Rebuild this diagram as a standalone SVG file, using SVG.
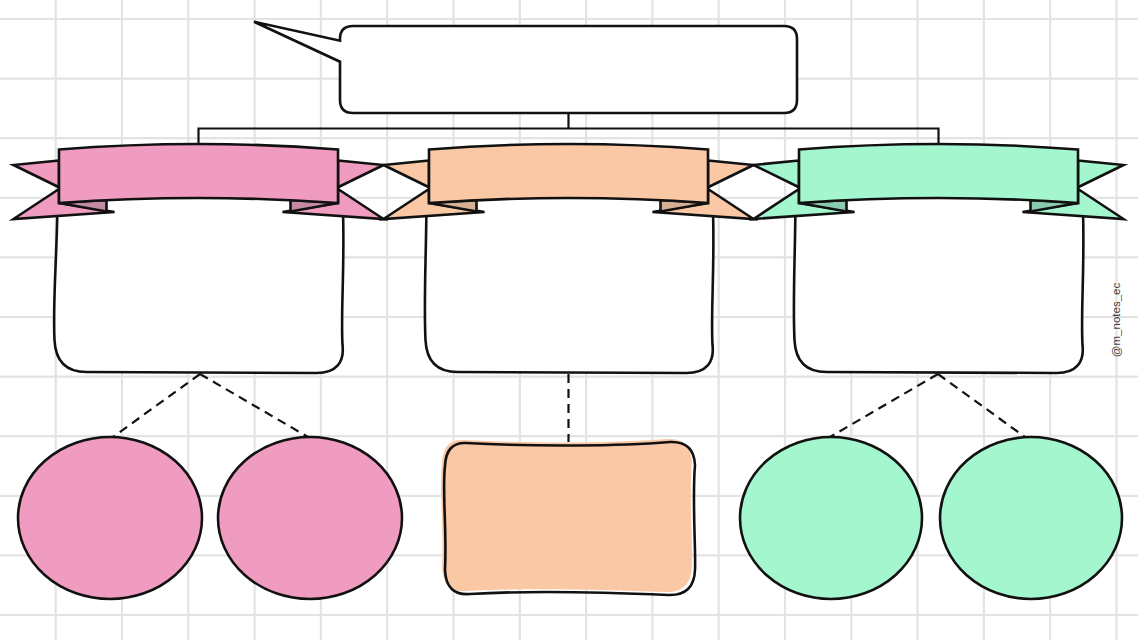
<svg xmlns="http://www.w3.org/2000/svg" width="1138" height="640" viewBox="0 0 1138 640">
<defs>
<style>
.grid line{stroke:#e3e3e3;stroke-width:2.2}
.ol{stroke:#111;stroke-width:2.6;stroke-linejoin:miter;stroke-linecap:round}
.conn{stroke:#111;stroke-width:2.2;fill:none}
.dash{stroke:#111;stroke-width:2.2;fill:none;stroke-dasharray:9 6}
.pink{fill:#F09BC0}.pinkd{fill:#C48AA3}
.peach{fill:#FBC8A5}.peachd{fill:#D6AE93}
.mint{fill:#A4F6CE}.mintd{fill:#8ACBAF}
.white{fill:#fff}
.credit{font-family:"Liberation Sans",Arial,sans-serif;font-size:11.5px;fill:#444}
</style>
</defs>
<rect width="1138" height="640" fill="#fff"/>
<g class="grid">
<line x1="55.7" y1="0" x2="55.7" y2="640"/><line x1="122" y1="0" x2="122" y2="640"/><line x1="188.3" y1="0" x2="188.3" y2="640"/><line x1="254.6" y1="0" x2="254.6" y2="640"/><line x1="320.9" y1="0" x2="320.9" y2="640"/><line x1="387.2" y1="0" x2="387.2" y2="640"/><line x1="453.5" y1="0" x2="453.5" y2="640"/><line x1="519.8" y1="0" x2="519.8" y2="640"/><line x1="586.1" y1="0" x2="586.1" y2="640"/><line x1="652.4" y1="0" x2="652.4" y2="640"/><line x1="718.7" y1="0" x2="718.7" y2="640"/><line x1="785" y1="0" x2="785" y2="640"/><line x1="851.3" y1="0" x2="851.3" y2="640"/><line x1="917.6" y1="0" x2="917.6" y2="640"/><line x1="983.9" y1="0" x2="983.9" y2="640"/><line x1="1050.2" y1="0" x2="1050.2" y2="640"/><line x1="1116.5" y1="0" x2="1116.5" y2="640"/>
<line x1="0" y1="19" x2="1138" y2="19"/><line x1="0" y1="78.6" x2="1138" y2="78.6"/><line x1="0" y1="138.2" x2="1138" y2="138.2"/><line x1="0" y1="197.8" x2="1138" y2="197.8"/><line x1="0" y1="257.4" x2="1138" y2="257.4"/><line x1="0" y1="317" x2="1138" y2="317"/><line x1="0" y1="376.6" x2="1138" y2="376.6"/><line x1="0" y1="436.2" x2="1138" y2="436.2"/><line x1="0" y1="495.8" x2="1138" y2="495.8"/><line x1="0" y1="555.4" x2="1138" y2="555.4"/><line x1="0" y1="615" x2="1138" y2="615"/>
</g>
<g id="connectors">
<path class="conn" d="M568.5,113 V128.5 M198.5,144 V128.5 H938.5 V144"/>
<path class="dash" d="M200,374 L113,437 M200,374 L308,437"/>
<path class="dash" d="M568.5,374 V442"/>
<path class="dash" d="M938,374 L830,437 M938,374 L1025,437"/>
</g>
<g id="title-bubble">
<path class="ol white" d="M353,26 H784 Q797,26 797,39 V100 Q797,113 784,113 H353 Q340,113 340,100 V61.7 L254,21.7 L340,40.7 V39 Q340,26 353,26 Z"/>
</g>
<g id="box-pink" transform="translate(198.5,0)">
<path class="ol white" d="M-141,196 C-141,250 -146,300 -144,340 C-143,362 -132,372 -112,372 L118,373 C138,373 146,362 144,345 C142,310 147,260 144,196 Z"/>
</g>
<g id="box-peach" transform="translate(568.5,0)">
<path class="ol white" d="M-142,196 C-142,250 -145,300 -143,340 C-142,362 -131,372 -111,372 L118,373 C138,373 146,362 144,345 C142,310 147,260 144,196 Z"/>
</g>
<g id="box-mint" transform="translate(938.5,0)">
<path class="ol white" d="M-143,196 C-143,250 -146,300 -144,340 C-143,362 -132,372 -112,372 L118,373 C138,373 146,362 144,345 C142,310 147,260 144,196 Z"/>
</g>
<g id="ribbon-pink" transform="translate(198.5,0)">
<polygon class="ol pink" points="-139.5,160.5 -185,165 -138,188 -185,219 -84,212 -139.5,203"/>
<polygon class="ol pinkd" points="-139.5,203 -92,200 -92,211.5"/>
<polygon class="ol pink" points="139.5,160.5 185,165 138,188 185,219 84,212 139.5,203"/>
<polygon class="ol pinkd" points="139.5,203 92,200 92,211.5"/>
<path class="ol pink" d="M-139.5,149.5 Q0,138.5 139.5,149.5 L139.5,203 Q0,193 -139.5,203 Z"/>
</g>
<g id="ribbon-peach" transform="translate(568.5,0)">
<polygon class="ol peach" points="-139.5,160.5 -185,165 -138,188 -185,219 -84,212 -139.5,203"/>
<polygon class="ol peachd" points="-139.5,203 -92,200 -92,211.5"/>
<polygon class="ol peach" points="139.5,160.5 185,165 138,188 185,219 84,212 139.5,203"/>
<polygon class="ol peachd" points="139.5,203 92,200 92,211.5"/>
<path class="ol peach" d="M-139.5,149.5 Q0,138.5 139.5,149.5 L139.5,203 Q0,193 -139.5,203 Z"/>
</g>
<g id="ribbon-mint" transform="translate(938.5,0)">
<polygon class="ol mint" points="-139.5,160.5 -185,165 -138,188 -185,219 -84,212 -139.5,203"/>
<polygon class="ol mintd" points="-139.5,203 -92,200 -92,211.5"/>
<polygon class="ol mint" points="139.5,160.5 185,165 138,188 185,219 84,212 139.5,203"/>
<polygon class="ol mintd" points="139.5,203 92,200 92,211.5"/>
<path class="ol mint" d="M-139.5,149.5 Q0,138.5 139.5,149.5 L139.5,203 Q0,193 -139.5,203 Z"/>
</g>
<g id="circle-pink-1"><ellipse class="ol pink" cx="110" cy="518" rx="92" ry="81"/></g>
<g id="circle-pink-2"><ellipse class="ol pink" cx="310" cy="518" rx="92" ry="81"/></g>
<g id="rect-peach">
<path class="peach" transform="translate(-3,-3)" d="M466,443 C540,447 620,446 670,442 Q694,441 695,465 C692,500 696,550 695,570 Q694,596 668,595 C600,592 520,591 470,594 Q446,596 445,570 C447,530 442,490 445,466 Q446,442 466,443 Z"/>
<path class="ol" fill="none" d="M466,443 C540,447 620,446 670,442 Q694,441 695,465 C692,500 696,550 695,570 Q694,596 668,595 C600,592 520,591 470,594 Q446,596 445,570 C447,530 442,490 445,466 Q446,442 466,443 Z"/>
</g>
<g id="circle-mint-1"><ellipse class="ol mint" cx="831" cy="518" rx="91" ry="81"/></g>
<g id="circle-mint-2"><ellipse class="ol mint" cx="1031" cy="518" rx="91" ry="81"/></g>
<text class="credit" transform="translate(1120,320) rotate(-90)" text-anchor="middle">@m_notes_ec</text>
</svg>
